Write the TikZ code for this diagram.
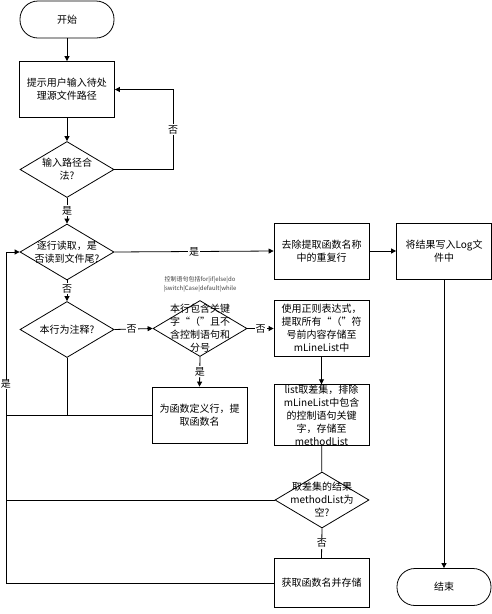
\documentclass[tikz,border=0pt]{standalone}
\usepackage{fontspec}
\setmainfont{Noto Sans CJK SC}
\usetikzlibrary{shapes.geometric,arrows.meta}
\begin{document}
\begin{tikzpicture}[x=1pt,y=-1pt,
  every node/.style={font=\fontsize{10}{13}\selectfont},
  line/.style={draw=black,line width=0.8pt},
  arr/.style={line,-{Triangle[length=5pt,width=5pt]}},
  term/.style={draw=black,line width=0.8pt,rounded corners=18pt,minimum width=94pt,minimum height=37pt,inner sep=0pt,align=center},
  proc/.style={draw=black,line width=0.8pt,minimum width=95pt,minimum height=56pt,inner sep=0pt,align=center},
  dec/.style={draw=black,line width=0.8pt,diamond,minimum width=94pt,minimum height=56pt,inner sep=0pt},
  lab/.style={fill=white,inner sep=1pt},
  note/.style={font=\fontsize{6}{9}\selectfont,align=center,text=black!75}
]
\useasboundingbox (0,0) rectangle (492,614);

\node[term] (start) at (67,19.5) {开始};
\node[proc] (b1) at (67,89.5) {提示用户输入待处\\理源文件路径};
\node[dec,label={[align=center]center:输入路径合\\法?}] (d1) at (67,169.5) {};
\node[dec,label={[align=center]center:逐行读取，是\\否读到文件尾?}] (d2) at (67,252) {};
\node[dec,label={[align=center]center:本行为注释?}] (d3) at (67,329.5) {};
\node[dec,label={[align=center]center:本行包含关键\\字“（”且不\\含控制语句和\\分号}] (d4) at (200,328.5) {};
\node[note] (nt) at (200,284.5) {控制语句包括for|if|else|do\\|switch|Case|default|while};
\node[proc] (b5) at (199.5,415) {为函数定义行，提\\取函数名};
\node[proc] (b2) at (321.5,251) {去除提取函数名称\\中的重复行};
\node[proc] (b3) at (444,251) {将结果写入Log文\\件中};
\node[proc] (b4) at (321.5,328.5) {使用正则表达式，\\提取所有“（”符\\号前内容存储至\\mLineList中};
\node[proc] (b6) at (321.5,415) {list取差集，排除\\mLineList中包含\\的控制语句关键\\字，存储至\\methodList};
\node[dec,label={[align=center]center:取差集的结果\\methodList为\\空?}] (d6) at (322,500) {};
\node[proc,minimum height=49pt] (b7) at (321.5,583) {获取函数名并存储};
\node[term] (end) at (444,587) {结束};

\coordinate (c1) at (173,169.5);
\coordinate (lA) at (67,415);
\coordinate (lB) at (6,415);
\coordinate (lC) at (6,500);
\coordinate (lD) at (6,583);
\coordinate (lE) at (6,252);

\draw[arr] (start) -- (b1);
\draw[arr] (b1) -- (d1);
\draw[arr] (d1.east) -- (c1) |- node[lab,pos=0.25] {否} (b1.east);
\draw[arr] (d1.south) -- node[lab,pos=0.5] {是} (d2.north);
\draw[arr] (d2.east) -- node[lab,pos=0.5] {是} (b2.west);
\draw[arr] (d2.south) -- node[lab,pos=0.4] {否} (d3.north);
\draw[arr] (d3.east) -- node[lab,pos=0.45] {否} (d4.west);
\draw[arr] (d4.east) -- node[lab,pos=0.5] {否} (b4.west);
\draw[arr] (d4.south) -- node[lab,pos=0.5] {是} (b5.north);
\draw[line] (d3.south) -- (lA);
\draw[line] (b5.west) -- (lB);
\draw[line] (d6.west) -- (lC);
\draw[arr] (b7.west) -- (lD) -- node[lab,pos=0.6,inner sep=0pt] {是} (lE) -- (d2.west);
\draw[arr] (b4) -- (b6);
\draw[line] (b6) -- (d6);
\draw[line] (d6.south) -- node[lab,pos=0.5] {否} (b7.north);
\draw[arr] (b2) -- (b3);
\draw[arr] (b3) -- (end);
\end{tikzpicture}
\end{document}
